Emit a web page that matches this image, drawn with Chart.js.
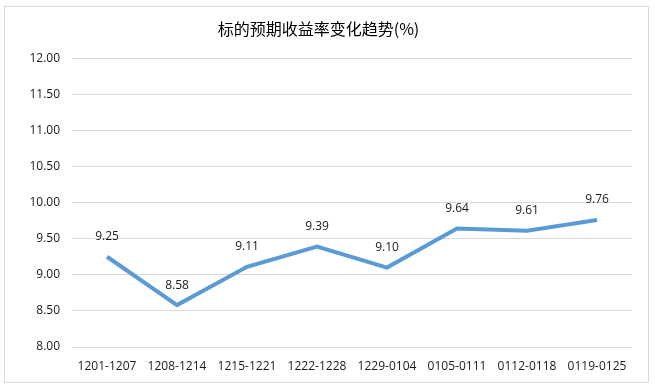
<!DOCTYPE html>
<html>
<head>
<meta charset="utf-8">
<script src="https://cdn.jsdelivr.net/npm/chart.js@4"></script>
<style>
  html, body { margin: 0; padding: 0; background: #fff; }
  #box {
    position: absolute; left: 4px; top: 6px;
    width: 645px; height: 377px;
    border: 1px solid #d9d9d9; box-sizing: border-box;
  }
  canvas { display: block; }
</style>
</head>
<body>
<div id="box"><canvas id="chart"></canvas></div>
<script>
// ── Data ─────────────────────────────────────────────
const TITLE = '标的预期收益率变化趋势(%)';
const WEEKS = ['1201-1207', '1208-1214', '1215-1221', '1222-1228', '1229-0104', '0105-0111', '0112-0118', '0119-0125'];
const YIELDS = [9.25, 8.58, 9.11, 9.39, 9.10, 9.64, 9.61, 9.76];
const Y_MIN = 8, Y_MAX = 12, Y_STEP = 0.5;

const LINE_COLOR = '#5b9bd5';
const TEXT_COLOR = '#1a1a1a';
const FONT = '"Open Sans", "Liberation Sans", sans-serif';

// labels above each point
const pointLabels = {
  id: 'pointLabels',
  afterDatasetsDraw(chart) {
    const ctx = chart.ctx;
    const meta = chart.getDatasetMeta(0);
    ctx.save();
    ctx.font = '12px ' + FONT;
    ctx.fillStyle = TEXT_COLOR;
    ctx.textAlign = 'center';
    ctx.textBaseline = 'middle';
    meta.data.forEach((pt, i) => {
      ctx.fillText(YIELDS[i].toFixed(2), pt.x, pt.y - 20);
    });
    ctx.restore();
  }
};

const canvas = document.getElementById('chart');
canvas.width = 643; canvas.height = 375;

new Chart(canvas.getContext('2d'), {
  type: 'line',
  data: {
    labels: WEEKS,
    datasets: [{
      data: YIELDS,
      borderColor: LINE_COLOR,
      borderWidth: 4,
      pointRadius: 0,
      tension: 0,
      fill: false,
    }],
  },
  options: {
    responsive: false,
    animation: false,
    layout: { padding: { left: 0, right: 16, bottom: 0 } },
    plugins: {
      legend: { display: false },
      tooltip: { enabled: false },
      title: {
        display: true,
        text: TITLE,
        color: '#000',
        font: { family: '"Noto Sans CJK SC", sans-serif', size: 16, weight: 'normal' },
        padding: { top: 12, bottom: 20 },
      },
    },
    scales: {
      x: {
        offset: true,
        afterFit: s => { s.height = 35; },
        grid: { display: false, drawTicks: false },
        border: { display: false },
        ticks: { color: TEXT_COLOR, font: { family: FONT, size: 12 }, padding: 12, maxRotation: 0 },
      },
      y: {
        min: Y_MIN,
        max: Y_MAX,
        afterFit: s => { s.width = 67; },
        grid: { color: '#d9d9d9', drawTicks: false },
        border: { display: false },
        ticks: {
          stepSize: Y_STEP,
          color: TEXT_COLOR,
          font: { family: FONT, size: 12 },
          padding: 12,
          callback: v => Number(v).toFixed(2),
        },
      },
    },
  },
  plugins: [pointLabels],
});
</script>
</body>
</html>
